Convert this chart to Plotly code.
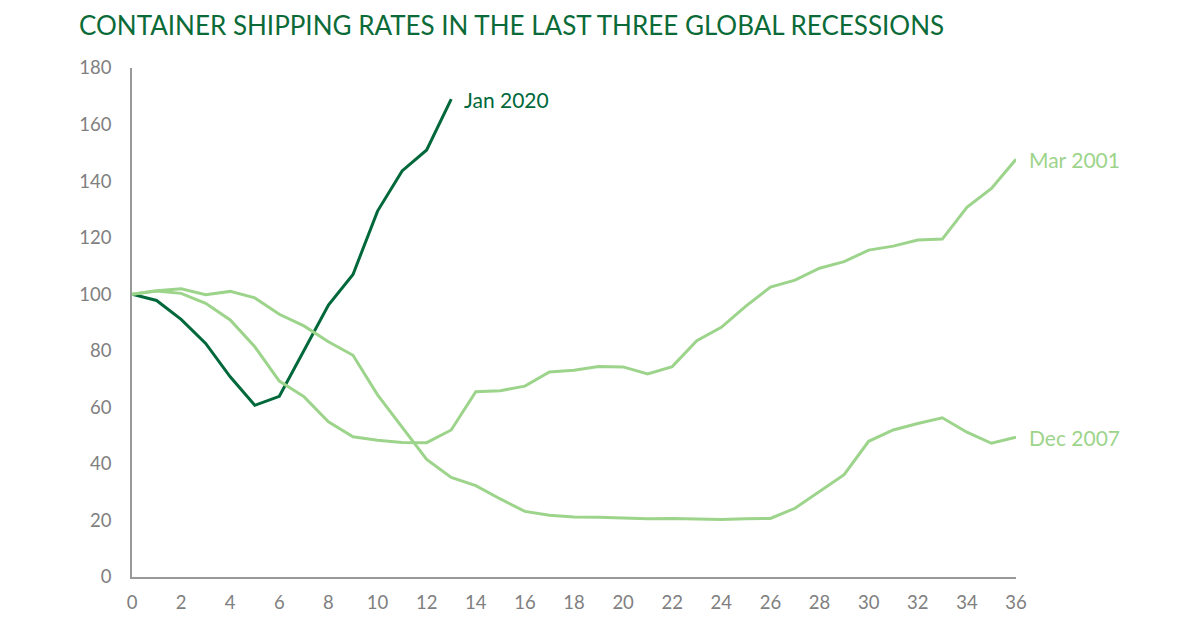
import plotly.graph_objects as go

months = list(range(0, 37))

jan_2020 = [100, 97.8, 91.1, 82.6, 70.8, 60.7, 63.9, 79.8, 96.2, 107, 129.4, 143.6, 151, 169]
mar_2001 = [100, 101.1, 100.3, 96.8, 90.9, 81.4, 69.3, 63.8, 54.9, 49.6, 48.4, 47.6, 47.5, 52.0,
            65.5, 65.9, 67.5, 72.5, 73.1, 74.4, 74.3, 71.8, 74.4, 83.6, 88.3, 95.8, 102.5, 105.0,
            109.2, 111.5, 115.6, 117.0, 119.2, 119.5, 130.7, 137.4, 147.7]
dec_2007 = [100, 101.2, 101.9, 99.8, 101.0, 98.7, 92.9, 88.8, 83.2, 78.4, 64.4, 53.1, 41.6, 35.2,
            32.3, 27.6, 23.2, 21.8, 21.2, 21.1, 20.9, 20.6, 20.7, 20.4, 20.3, 20.6, 20.7, 24.3,
            30.4, 36.2, 48.0, 52.0, 54.3, 56.3, 51.2, 47.3, 49.4]

series_names = ["Jan 2020", "Mar 2001", "Dec 2007"]
series_values = [jan_2020, mar_2001, dec_2007]
dark_green = "#00683A"
light_green = "#9DD48B"
series_colors = [dark_green, light_green, light_green]

x_ticks = list(range(0, 37, 2))
y_ticks = list(range(0, 181, 20))

FONT = "Lato"

fig = go.Figure()
for name, vals, col in zip(series_names, series_values, series_colors):
    xs = months[:len(vals)]
    fig.add_trace(go.Scatter(x=xs, y=vals, mode="lines", name=name,
                             line=dict(color=col, width=3), showlegend=False,
                             hoverinfo="skip"))
    fig.add_annotation(x=xs[-1], y=vals[-1], text=name, showarrow=False,
                       xanchor="left", yanchor="middle", xshift=11,
                       font=dict(family=FONT, size=21, color=col))

fig.update_layout(
    width=1200, height=630,
    margin=dict(l=132, r=184, t=68, b=53),
    paper_bgcolor="white", plot_bgcolor="white",
    title=dict(text="CONTAINER SHIPPING RATES IN THE LAST THREE GLOBAL RECESSIONS",
               x=79 / 1200, xanchor="left", y=1 - 26 / 630, yanchor="middle",
               font=dict(family=FONT, size=26, color="#0B6B38")),
    font=dict(family=FONT, color="#808080"),
)
fig.update_xaxes(range=[0, 36], tickvals=x_ticks, showgrid=False, zeroline=False,
                 showline=True, linecolor="#999999", linewidth=1.5, ticks="",
                 tickfont=dict(family=FONT, size=18.5, color="#808080"), ticklabelstandoff=8)
fig.update_yaxes(range=[0, 180], tickvals=y_ticks, showgrid=False, zeroline=False,
                 showline=True, linecolor="#999999", linewidth=1.5, ticks="",
                 tickfont=dict(family=FONT, size=18.5, color="#808080"), ticklabelstandoff=15)

fig.write_html("out.html")
